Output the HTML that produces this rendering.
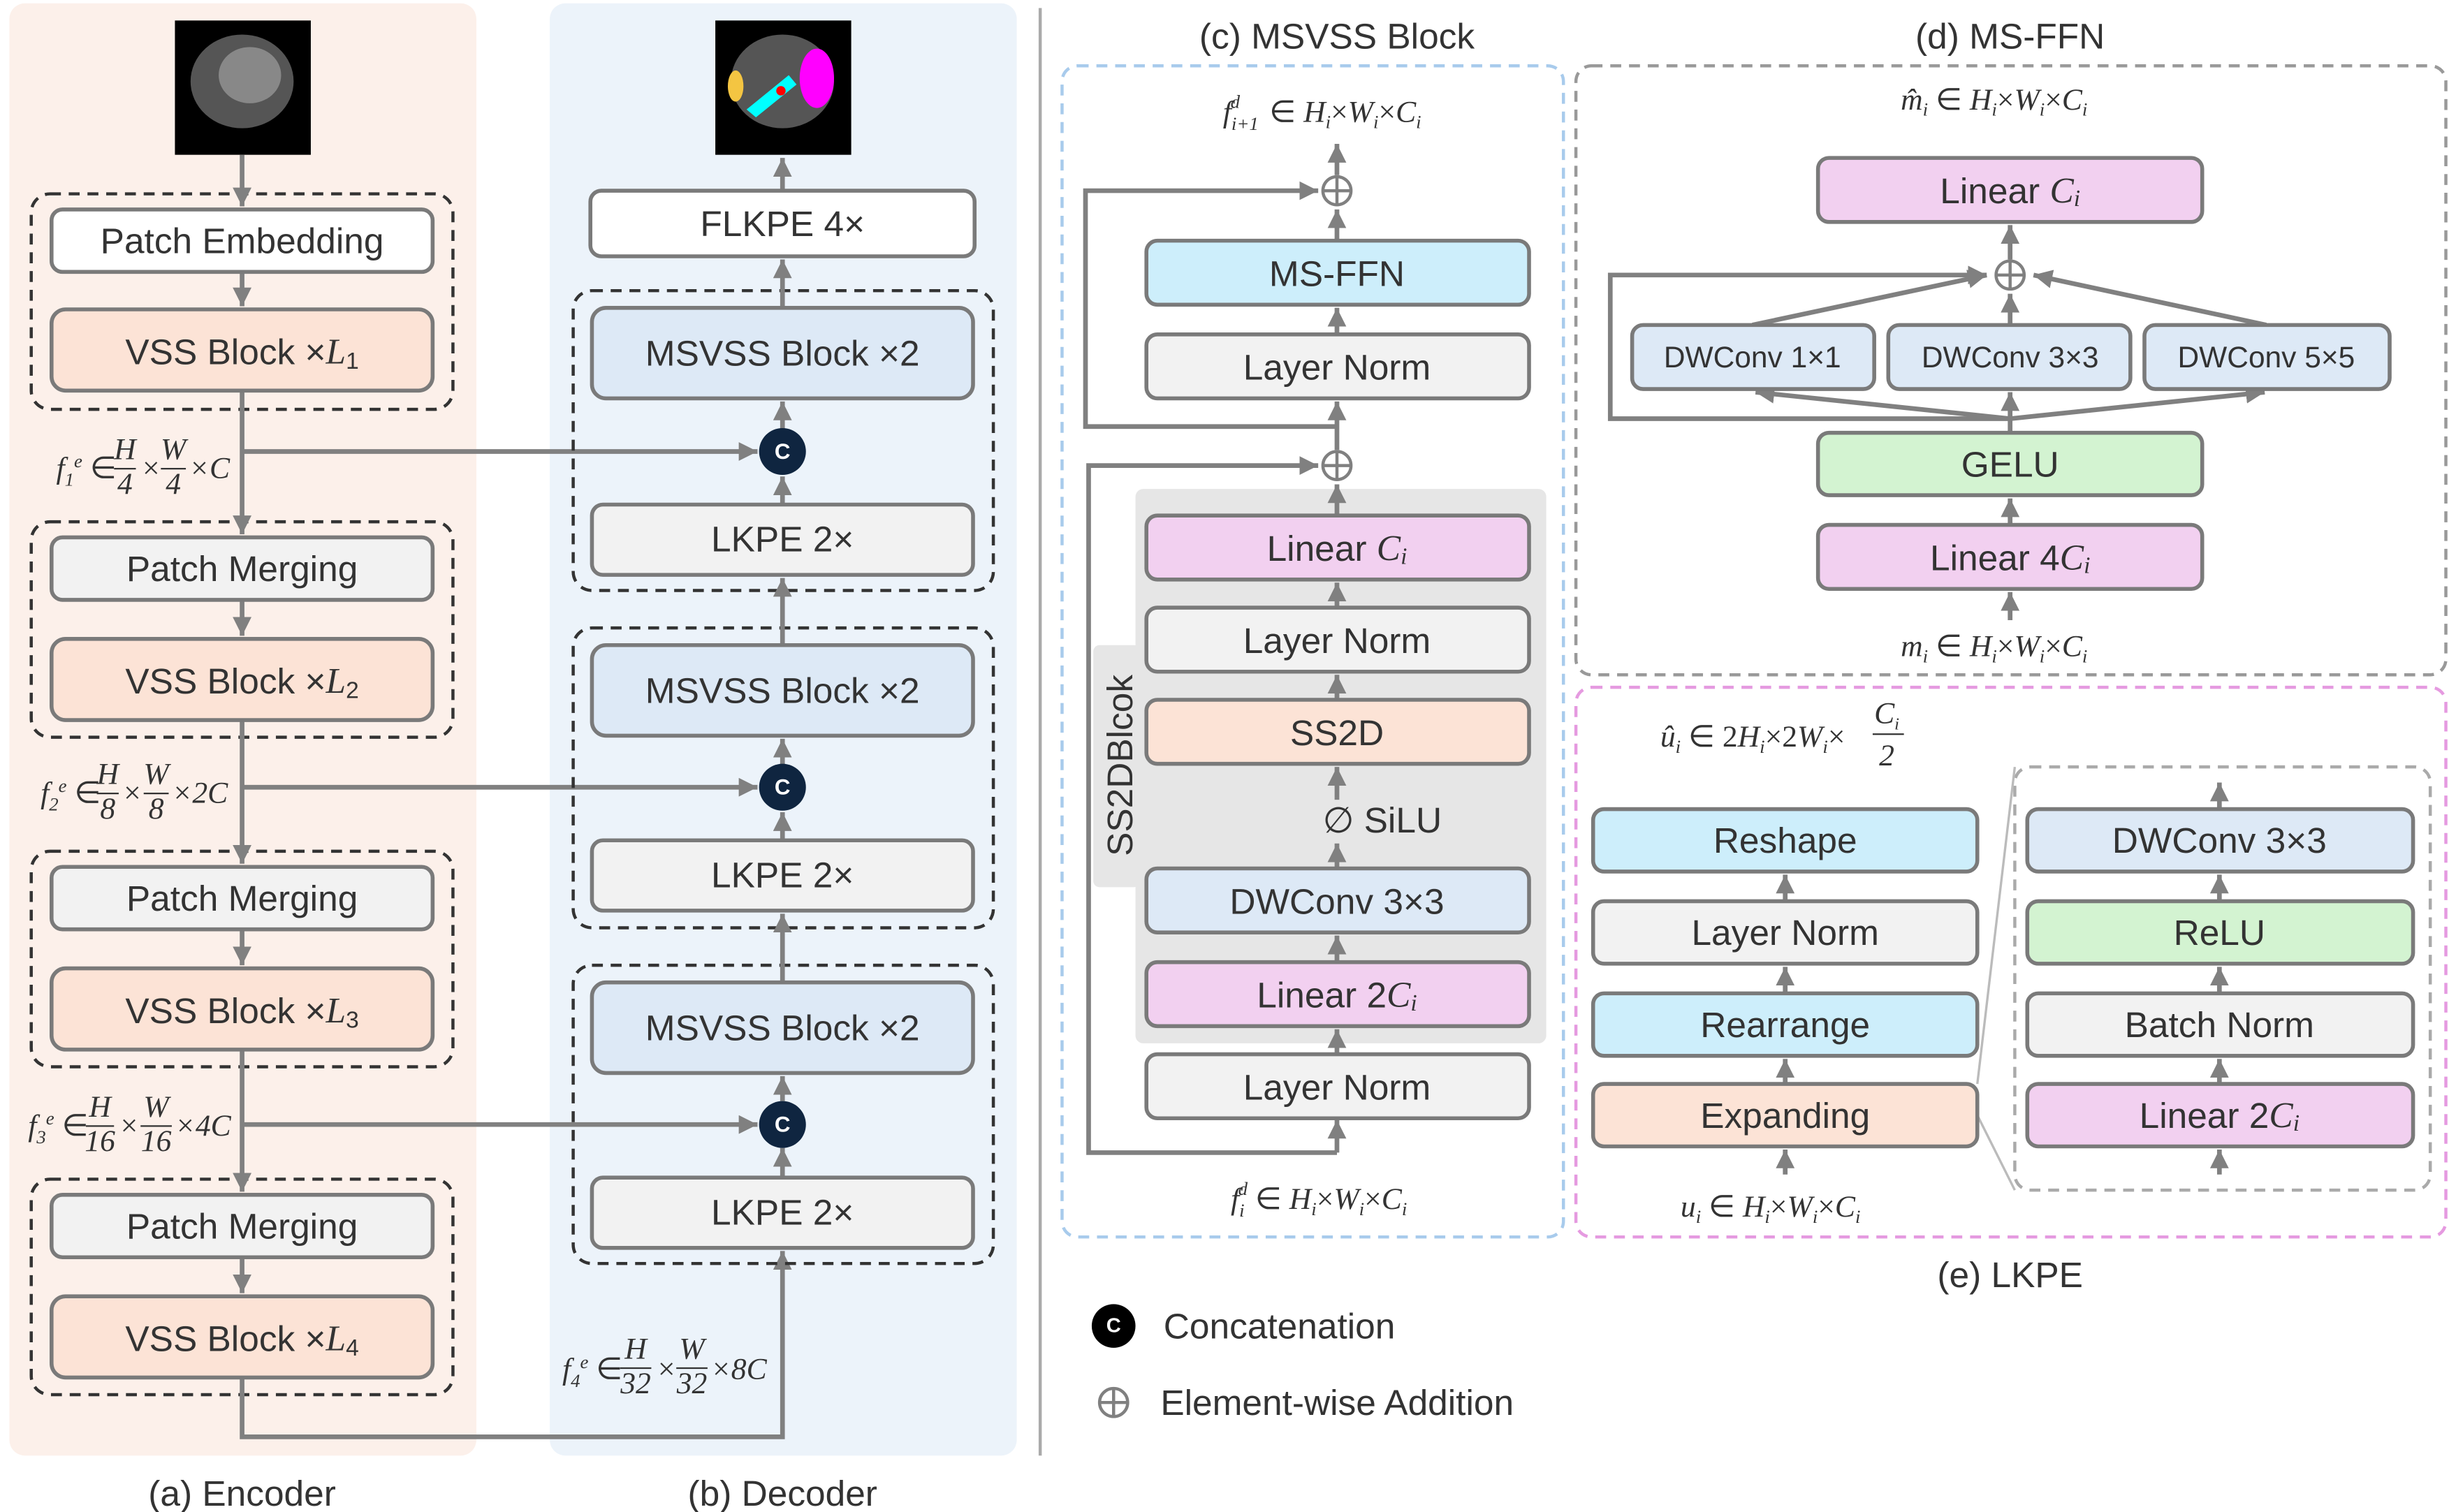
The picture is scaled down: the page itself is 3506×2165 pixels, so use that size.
<!DOCTYPE html>
<html><head><meta charset="utf-8"><style>
html,body{margin:0;padding:0;background:#fff}
svg{display:block}
text{font-family:"Liberation Sans",sans-serif;fill:#333}
.b{font-size:23px;text-anchor:middle;dominant-baseline:central}
.m{font-family:"Liberation Serif",serif;font-style:italic;font-size:19.5px;fill:#333}
.box{stroke:#7a7a7a;stroke-width:2.5}
.ln{stroke:#808080;stroke-width:3;fill:none}
.grp{fill:none;stroke:#333;stroke-width:2;stroke-dasharray:7 5}
</style></head><body>
<svg width="3506" height="2165" viewBox="0 0 1568 968" xmlns="http://www.w3.org/2000/svg">
<defs>
<marker id="a" markerUnits="userSpaceOnUse" markerWidth="14" markerHeight="14" refX="12" refY="6" orient="auto"><path d="M0,0 L12,6 L0,12 z" fill="#808080"/></marker>
</defs>
<rect x="6" y="2" width="299" height="930" rx="10" fill="#fcf0ea"/>
<rect x="352" y="2" width="299" height="930" rx="10" fill="#ecf3fa"/>
<line x1="666" y1="5" x2="666" y2="932" stroke="#aaa" stroke-width="2"/>
<rect x="112" y="13" width="87" height="86" fill="#000"/>
<ellipse cx="155" cy="52" rx="33" ry="30" fill="#555"/><ellipse cx="160" cy="48" rx="20" ry="18" fill="#888"/>
<rect x="458" y="13" width="87" height="86" fill="#000"/>
<ellipse cx="501" cy="52" rx="33" ry="30" fill="#555"/>
<ellipse cx="523" cy="50" rx="11" ry="19" fill="#f0f"/><path d="M478,70 L505,48 L510,54 L484,75z" fill="#0ff"/><ellipse cx="471" cy="55" rx="5" ry="10" fill="#f4c542"/><circle cx="500" cy="58" r="3" fill="#f00"/>
<rect class="grp" x="20" y="124" width="270" height="138" rx="12"/>
<rect class="grp" x="20" y="334" width="270" height="138" rx="12"/>
<rect class="grp" x="20" y="545" width="270" height="138" rx="12"/>
<rect class="grp" x="20" y="755" width="270" height="138" rx="12"/>
<path class="ln" d="M155,99 V132" marker-end="url(#a)"/>
<path class="ln" d="M155,174 V196" marker-end="url(#a)"/>
<path class="ln" d="M155,250 V342" marker-end="url(#a)"/>
<path class="ln" d="M155,384 V407" marker-end="url(#a)"/>
<path class="ln" d="M155,461 V553" marker-end="url(#a)"/>
<path class="ln" d="M155,595 V618" marker-end="url(#a)"/>
<path class="ln" d="M155,672 V763" marker-end="url(#a)"/>
<path class="ln" d="M155,805 V828" marker-end="url(#a)"/>
<path class="ln" d="M155,882 V920 H501 V801" marker-end="url(#a)"/>
<path class="ln" d="M155,289 H485" marker-end="url(#a)"/>
<path class="ln" d="M155,504 H485" marker-end="url(#a)"/>
<path class="ln" d="M155,720 H485" marker-end="url(#a)"/>
<rect class="box" x="33" y="134" width="244" height="40" rx="7" fill="#fff"/><text class="b" x="155" y="154">Patch Embedding</text>
<rect class="box" x="33" y="198" width="244" height="52" rx="9" fill="#fce3d6"/><text class="b" x="155" y="225">VSS Block ×<tspan font-family="Liberation Serif" font-style="italic">L</tspan><tspan font-size="15" dy="6">1</tspan></text>
<rect class="box" x="33" y="344" width="244" height="40" rx="7" fill="#f2f2f2"/><text class="b" x="155" y="364">Patch Merging</text>
<rect class="box" x="33" y="409" width="244" height="52" rx="9" fill="#fce3d6"/><text class="b" x="155" y="436">VSS Block ×<tspan font-family="Liberation Serif" font-style="italic">L</tspan><tspan font-size="15" dy="6">2</tspan></text>
<rect class="box" x="33" y="555" width="244" height="40" rx="7" fill="#f2f2f2"/><text class="b" x="155" y="575">Patch Merging</text>
<rect class="box" x="33" y="620" width="244" height="52" rx="9" fill="#fce3d6"/><text class="b" x="155" y="647">VSS Block ×<tspan font-family="Liberation Serif" font-style="italic">L</tspan><tspan font-size="15" dy="6">3</tspan></text>
<rect class="box" x="33" y="765" width="244" height="40" rx="7" fill="#f2f2f2"/><text class="b" x="155" y="785">Patch Merging</text>
<rect class="box" x="33" y="830" width="244" height="52" rx="9" fill="#fce3d6"/><text class="b" x="155" y="857">VSS Block ×<tspan font-family="Liberation Serif" font-style="italic">L</tspan><tspan font-size="15" dy="6">4</tspan></text>
<text class="m" x="36" y="306">f<tspan font-size="12" dy="5">1</tspan><tspan font-size="12" dy="-12">e</tspan><tspan dy="7" font-style="normal"> ∈ </tspan></text>
<text class="m" x="80" y="294" text-anchor="middle" font-size="15">H</text><line x1="73" y1="300" x2="87" y2="300" stroke="#333"/><text class="m" x="80" y="316" text-anchor="middle" font-size="15" font-style="normal">4</text>
<text class="m" x="90" y="306" font-style="normal">×</text>
<text class="m" x="111" y="294" text-anchor="middle" font-size="15">W</text><line x1="103" y1="300" x2="119" y2="300" stroke="#333"/><text class="m" x="111" y="316" text-anchor="middle" font-size="15" font-style="normal">4</text>
<text class="m" x="121" y="306" font-style="normal">×C</text>
<text class="m" x="26" y="514">f<tspan font-size="12" dy="5">2</tspan><tspan font-size="12" dy="-12">e</tspan><tspan dy="7" font-style="normal"> ∈ </tspan></text>
<text class="m" x="69" y="502" text-anchor="middle" font-size="15">H</text><line x1="62" y1="508" x2="76" y2="508" stroke="#333"/><text class="m" x="69" y="524" text-anchor="middle" font-size="15" font-style="normal">8</text>
<text class="m" x="78" y="514" font-style="normal">×</text>
<text class="m" x="100" y="502" text-anchor="middle" font-size="15">W</text><line x1="92" y1="508" x2="108" y2="508" stroke="#333"/><text class="m" x="100" y="524" text-anchor="middle" font-size="15" font-style="normal">8</text>
<text class="m" x="110" y="514" font-style="normal">×2C</text>
<text class="m" x="18" y="727">f<tspan font-size="12" dy="5">3</tspan><tspan font-size="12" dy="-12">e</tspan><tspan dy="7" font-style="normal"> ∈ </tspan></text>
<text class="m" x="64" y="715" text-anchor="middle" font-size="15">H</text><line x1="55" y1="721" x2="73" y2="721" stroke="#333"/><text class="m" x="64" y="737" text-anchor="middle" font-size="15" font-style="normal">16</text>
<text class="m" x="76" y="727" font-style="normal">×</text>
<text class="m" x="100" y="715" text-anchor="middle" font-size="15">W</text><line x1="90" y1="721" x2="110" y2="721" stroke="#333"/><text class="m" x="100" y="737" text-anchor="middle" font-size="15" font-style="normal">16</text>
<text class="m" x="112" y="727" font-style="normal">×4C</text>
<text class="m" x="360" y="883">f<tspan font-size="12" dy="5">4</tspan><tspan font-size="12" dy="-12">e</tspan><tspan dy="7" font-style="normal"> ∈ </tspan></text>
<text class="m" x="407" y="870" text-anchor="middle" font-size="15">H</text><line x1="397" y1="876" x2="417" y2="876" stroke="#333"/><text class="m" x="407" y="892" text-anchor="middle" font-size="15" font-style="normal">32</text>
<text class="m" x="420" y="883" font-style="normal">×</text>
<text class="m" x="443" y="870" text-anchor="middle" font-size="15">W</text><line x1="433" y1="876" x2="453" y2="876" stroke="#333"/><text class="m" x="443" y="892" text-anchor="middle" font-size="15" font-style="normal">32</text>
<text class="m" x="455" y="883" font-style="normal">×8C</text>
<rect class="grp" x="367" y="186" width="269" height="192" rx="12"/>
<rect class="grp" x="367" y="402" width="269" height="192" rx="12"/>
<rect class="grp" x="367" y="618" width="269" height="191" rx="12"/>
<path class="ln" d="M501,754 V735" marker-end="url(#a)"/>
<path class="ln" d="M501,705 V689" marker-end="url(#a)"/>
<path class="ln" d="M501,629 V585" marker-end="url(#a)"/>
<path class="ln" d="M501,538 V520" marker-end="url(#a)"/>
<path class="ln" d="M501,490 V473" marker-end="url(#a)"/>
<path class="ln" d="M501,413 V370" marker-end="url(#a)"/>
<path class="ln" d="M501,323 V305" marker-end="url(#a)"/>
<path class="ln" d="M501,275 V257" marker-end="url(#a)"/>
<path class="ln" d="M501,197 V166" marker-end="url(#a)"/>
<path class="ln" d="M501,122 V101" marker-end="url(#a)"/>
<rect class="box" x="378" y="122" width="246" height="42" rx="7" fill="#fff"/><text class="b" x="501" y="143">FLKPE 4×</text>
<rect class="box" x="379" y="197" width="244" height="58" rx="9" fill="#dde9f6"/><text class="b" x="501" y="226">MSVSS Block ×2</text>
<rect class="box" x="379" y="323" width="244" height="45" rx="7" fill="#f2f2f2"/><text class="b" x="501" y="345">LKPE 2×</text>
<rect class="box" x="379" y="413" width="244" height="58" rx="9" fill="#dde9f6"/><text class="b" x="501" y="442">MSVSS Block ×2</text>
<rect class="box" x="379" y="538" width="244" height="45" rx="7" fill="#f2f2f2"/><text class="b" x="501" y="560">LKPE 2×</text>
<rect class="box" x="379" y="629" width="244" height="58" rx="9" fill="#dde9f6"/><text class="b" x="501" y="658">MSVSS Block ×2</text>
<rect class="box" x="379" y="754" width="244" height="45" rx="7" fill="#f2f2f2"/><text class="b" x="501" y="776">LKPE 2×</text>
<circle cx="501" cy="289" r="15" fill="#0f2540"/><text class="b" x="501" y="289" style="fill:#fff;font-size:14px;font-weight:bold">C</text>
<circle cx="501" cy="504" r="15" fill="#0f2540"/><text class="b" x="501" y="504" style="fill:#fff;font-size:14px;font-weight:bold">C</text>
<circle cx="501" cy="720" r="15" fill="#0f2540"/><text class="b" x="501" y="720" style="fill:#fff;font-size:14px;font-weight:bold">C</text>
<text class="b" x="155" y="956">(a) Encoder</text>
<text class="b" x="501" y="956">(b) Decoder</text>
<text class="b" x="856" y="23">(c) MSVSS Block</text>
<rect x="680" y="42" width="321" height="750" rx="10" fill="none" stroke="#a8cbec" stroke-width="2" stroke-dasharray="7 5"/>
<rect x="727" y="313" width="263" height="355" rx="5" fill="#e6e6e6"/>
<rect x="700" y="413" width="30" height="155" rx="4" fill="#e6e6e6"/>
<text class="b" x="717" y="490" transform="rotate(-90 717 490)">SS2DBlcok</text>
<text class="m" x="783" y="78">f<tspan font-size="12" dy="5">i+1</tspan><tspan font-size="12" dy="-14" dx="-18">d</tspan><tspan dy="9" dx="14" font-style="normal"> ∈ </tspan>H<tspan font-size="12" dy="4">i</tspan><tspan dy="-4" font-style="normal">×</tspan>W<tspan font-size="12" dy="4">i</tspan><tspan dy="-4" font-style="normal">×</tspan>C<tspan font-size="12" dy="4">i</tspan></text>
<path class="ln" d="M856,738 V717" marker-end="url(#a)"/>
<path class="ln" d="M856,675 V659" marker-end="url(#a)"/>
<path class="ln" d="M856,616 V599" marker-end="url(#a)"/>
<path class="ln" d="M856,556 V540" marker-end="url(#a)"/>
<path class="ln" d="M856,512 V491" marker-end="url(#a)"/>
<path class="ln" d="M856,448 V432" marker-end="url(#a)"/>
<path class="ln" d="M856,389 V373" marker-end="url(#a)"/>
<path class="ln" d="M856,330 V310" marker-end="url(#a)"/>
<path class="ln" d="M856,288 V257" marker-end="url(#a)"/>
<path class="ln" d="M856,214 V197" marker-end="url(#a)"/>
<path class="ln" d="M856,154 V134" marker-end="url(#a)"/>
<path class="ln" d="M856,112 V92" marker-end="url(#a)"/>
<path class="ln" d="M856,738 H697 V298 H844" marker-end="url(#a)"/>
<path class="ln" d="M856,273 H695 V122 H844" marker-end="url(#a)"/>
<g stroke="#808080" stroke-width="2" fill="none"><circle cx="856" cy="122" r="9"/><path d="M847,122H865M856,113V131"/><circle cx="856" cy="298" r="9"/><path d="M847,298H865M856,289V307"/></g>
<rect class="box" x="734" y="154" width="245" height="41" rx="7" fill="#cdeefb"/><text class="b" x="856" y="175">MS-FFN</text>
<rect class="box" x="734" y="214" width="245" height="41" rx="7" fill="#f2f2f2"/><text class="b" x="856" y="235">Layer Norm</text>
<rect class="box" x="734" y="330" width="245" height="41" rx="7" fill="#f2d0f0"/><text class="b" x="856" y="351">Linear <tspan font-family="Liberation Serif" font-style="italic">C</tspan><tspan font-size="15" dy="5" font-family="Liberation Serif" font-style="italic">i</tspan></text>
<rect class="box" x="734" y="389" width="245" height="41" rx="7" fill="#f2f2f2"/><text class="b" x="856" y="410">Layer Norm</text>
<rect class="box" x="734" y="448" width="245" height="41" rx="7" fill="#fce3d6"/><text class="b" x="856" y="469">SS2D</text>
<text class="b" x="885" y="525">∅ SiLU</text>
<rect class="box" x="734" y="556" width="245" height="41" rx="7" fill="#dde9f6"/><text class="b" x="856" y="577">DWConv 3×3</text>
<rect class="box" x="734" y="616" width="245" height="41" rx="7" fill="#f2d0f0"/><text class="b" x="856" y="637">Linear 2<tspan font-family="Liberation Serif" font-style="italic">C</tspan><tspan font-size="15" dy="5" font-family="Liberation Serif" font-style="italic">i</tspan></text>
<rect class="box" x="734" y="675" width="245" height="41" rx="7" fill="#f2f2f2"/><text class="b" x="856" y="696">Layer Norm</text>
<text class="m" x="788" y="774">f<tspan font-size="12" dy="5">i</tspan><tspan font-size="12" dy="-14" dx="-4">d</tspan><tspan dy="9" font-style="normal"> ∈ </tspan>H<tspan font-size="12" dy="4">i</tspan><tspan dy="-4" font-style="normal">×</tspan>W<tspan font-size="12" dy="4">i</tspan><tspan dy="-4" font-style="normal">×</tspan>C<tspan font-size="12" dy="4">i</tspan></text>
<text class="b" x="1287" y="23">(d) MS-FFN</text>
<rect x="1009" y="42" width="557" height="390" rx="10" fill="none" stroke="#999" stroke-width="2" stroke-dasharray="7 5"/>
<text class="m" x="1217" y="70">m̂<tspan font-size="12" dy="4">i</tspan><tspan dy="-4" font-style="normal"> ∈ </tspan>H<tspan font-size="12" dy="4">i</tspan><tspan dy="-4" font-style="normal">×</tspan>W<tspan font-size="12" dy="4">i</tspan><tspan dy="-4" font-style="normal">×</tspan>C<tspan font-size="12" dy="4">i</tspan></text>
<text class="m" x="1217" y="420">m<tspan font-size="12" dy="4">i</tspan><tspan dy="-4" font-style="normal"> ∈ </tspan>H<tspan font-size="12" dy="4">i</tspan><tspan dy="-4" font-style="normal">×</tspan>W<tspan font-size="12" dy="4">i</tspan><tspan dy="-4" font-style="normal">×</tspan>C<tspan font-size="12" dy="4">i</tspan></text>
<path class="ln" d="M1287,397 V379" marker-end="url(#a)"/>
<path class="ln" d="M1287,336 V319" marker-end="url(#a)"/>
<path class="ln" d="M1287,277 V251" marker-end="url(#a)"/>
<path class="ln" d="M1287,268 L1124,251" marker-end="url(#a)"/>
<path class="ln" d="M1287,268 L1450,251" marker-end="url(#a)"/>
<path class="ln" d="M1287,268 H1031 V176 H1272" marker-end="url(#a)"/>
<path class="ln" d="M1122,208 L1272,176" marker-end="url(#a)"/>
<path class="ln" d="M1287,208 V188" marker-end="url(#a)"/>
<path class="ln" d="M1451,208 L1302,176" marker-end="url(#a)"/>
<path class="ln" d="M1287,166 V144" marker-end="url(#a)"/>
<g stroke="#808080" stroke-width="2" fill="none"><circle cx="1287" cy="176" r="9"/><path d="M1278,176H1296M1287,167V185"/></g>
<rect class="box" x="1164" y="101" width="246" height="41" rx="7" fill="#f2d0f0"/><text class="b" x="1287" y="122">Linear <tspan font-family="Liberation Serif" font-style="italic">C</tspan><tspan font-size="15" dy="5" font-family="Liberation Serif" font-style="italic">i</tspan></text>
<rect class="box" x="1045" y="208" width="155" height="41" rx="7" fill="#dde9f6"/><text class="b" x="1122" y="229" style="font-size:19px">DWConv 1×1</text>
<rect class="box" x="1209" y="208" width="155" height="41" rx="7" fill="#dde9f6"/><text class="b" x="1287" y="229" style="font-size:19px">DWConv 3×3</text>
<rect class="box" x="1373" y="208" width="157" height="41" rx="7" fill="#dde9f6"/><text class="b" x="1451" y="229" style="font-size:19px">DWConv 5×5</text>
<rect class="box" x="1164" y="277" width="246" height="40" rx="7" fill="#d3f3d1"/><text class="b" x="1287" y="297">GELU</text>
<rect class="box" x="1164" y="336" width="246" height="41" rx="7" fill="#f2d0f0"/><text class="b" x="1287" y="357">Linear 4<tspan font-family="Liberation Serif" font-style="italic">C</tspan><tspan font-size="15" dy="5" font-family="Liberation Serif" font-style="italic">i</tspan></text>
<rect x="1009" y="440" width="557" height="352" rx="10" fill="none" stroke="#e59ae0" stroke-width="2" stroke-dasharray="7 5"/>
<rect x="1290" y="491" width="266" height="271" rx="10" fill="none" stroke="#aaa" stroke-width="2" stroke-dasharray="7 5"/>
<line x1="1266" y1="694" x2="1290" y2="491" stroke="#bbb" stroke-width="1.5"/>
<line x1="1266" y1="714" x2="1290" y2="762" stroke="#bbb" stroke-width="1.5"/>
<text class="m" x="1063" y="478">û<tspan font-size="12" dy="4">i</tspan><tspan dy="-4" font-style="normal"> ∈ 2</tspan>H<tspan font-size="12" dy="4">i</tspan><tspan dy="-4" font-style="normal">×2</tspan>W<tspan font-size="12" dy="4">i</tspan><tspan dy="-4" font-style="normal">×</tspan></text>
<text class="m" x="1208" y="463" text-anchor="middle" font-size="17">C<tspan font-size="11" dy="4">i</tspan></text><line x1="1199" y1="470" x2="1219" y2="470" stroke="#333"/><text class="m" x="1208" y="490" text-anchor="middle" font-size="17" font-style="normal">2</text>
<text class="m" x="1076" y="779">u<tspan font-size="12" dy="4">i</tspan><tspan dy="-4" font-style="normal"> ∈ </tspan>H<tspan font-size="12" dy="4">i</tspan><tspan dy="-4" font-style="normal">×</tspan>W<tspan font-size="12" dy="4">i</tspan><tspan dy="-4" font-style="normal">×</tspan>C<tspan font-size="12" dy="4">i</tspan></text>
<path class="ln" d="M1143,752 V736" marker-end="url(#a)"/>
<path class="ln" d="M1143,694 V678" marker-end="url(#a)"/>
<path class="ln" d="M1143,636 V619" marker-end="url(#a)"/>
<path class="ln" d="M1143,577 V560" marker-end="url(#a)"/>
<path class="ln" d="M1421,752 V736" marker-end="url(#a)"/>
<path class="ln" d="M1421,694 V678" marker-end="url(#a)"/>
<path class="ln" d="M1421,636 V619" marker-end="url(#a)"/>
<path class="ln" d="M1421,577 V560" marker-end="url(#a)"/>
<path class="ln" d="M1421,518 V501" marker-end="url(#a)"/>
<rect class="box" x="1020" y="518" width="246" height="40" rx="7" fill="#cdeefb"/><text class="b" x="1143" y="538">Reshape</text>
<rect class="box" x="1020" y="577" width="246" height="40" rx="7" fill="#f2f2f2"/><text class="b" x="1143" y="597">Layer Norm</text>
<rect class="box" x="1020" y="636" width="246" height="40" rx="7" fill="#cdeefb"/><text class="b" x="1143" y="656">Rearrange</text>
<rect class="box" x="1020" y="694" width="246" height="40" rx="7" fill="#fce3d6"/><text class="b" x="1143" y="714">Expanding</text>
<rect class="box" x="1298" y="518" width="247" height="40" rx="7" fill="#dde9f6"/><text class="b" x="1421" y="538">DWConv 3×3</text>
<rect class="box" x="1298" y="577" width="247" height="40" rx="7" fill="#d3f3d1"/><text class="b" x="1421" y="597">ReLU</text>
<rect class="box" x="1298" y="636" width="247" height="40" rx="7" fill="#f2f2f2"/><text class="b" x="1421" y="656">Batch Norm</text>
<rect class="box" x="1298" y="694" width="247" height="40" rx="7" fill="#f2d0f0"/><text class="b" x="1421" y="714">Linear 2<tspan font-family="Liberation Serif" font-style="italic">C</tspan><tspan font-size="15" dy="5" font-family="Liberation Serif" font-style="italic">i</tspan></text>
<text class="b" x="1287" y="816">(e) LKPE</text>
<circle cx="713" cy="849" r="14" fill="#000"/><text class="b" x="713" y="849" style="fill:#fff;font-size:13px;font-weight:bold">C</text>
<text class="b" x="745" y="849" style="text-anchor:start;font-size:23px">Concatenation</text>
<g stroke="#808080" stroke-width="2" fill="none"><circle cx="713" cy="898" r="9"/><path d="M704,898H722M713,889V907"/></g>
<text class="b" x="743" y="898" style="text-anchor:start;font-size:23px">Element-wise Addition</text>
</svg>
</body></html>
